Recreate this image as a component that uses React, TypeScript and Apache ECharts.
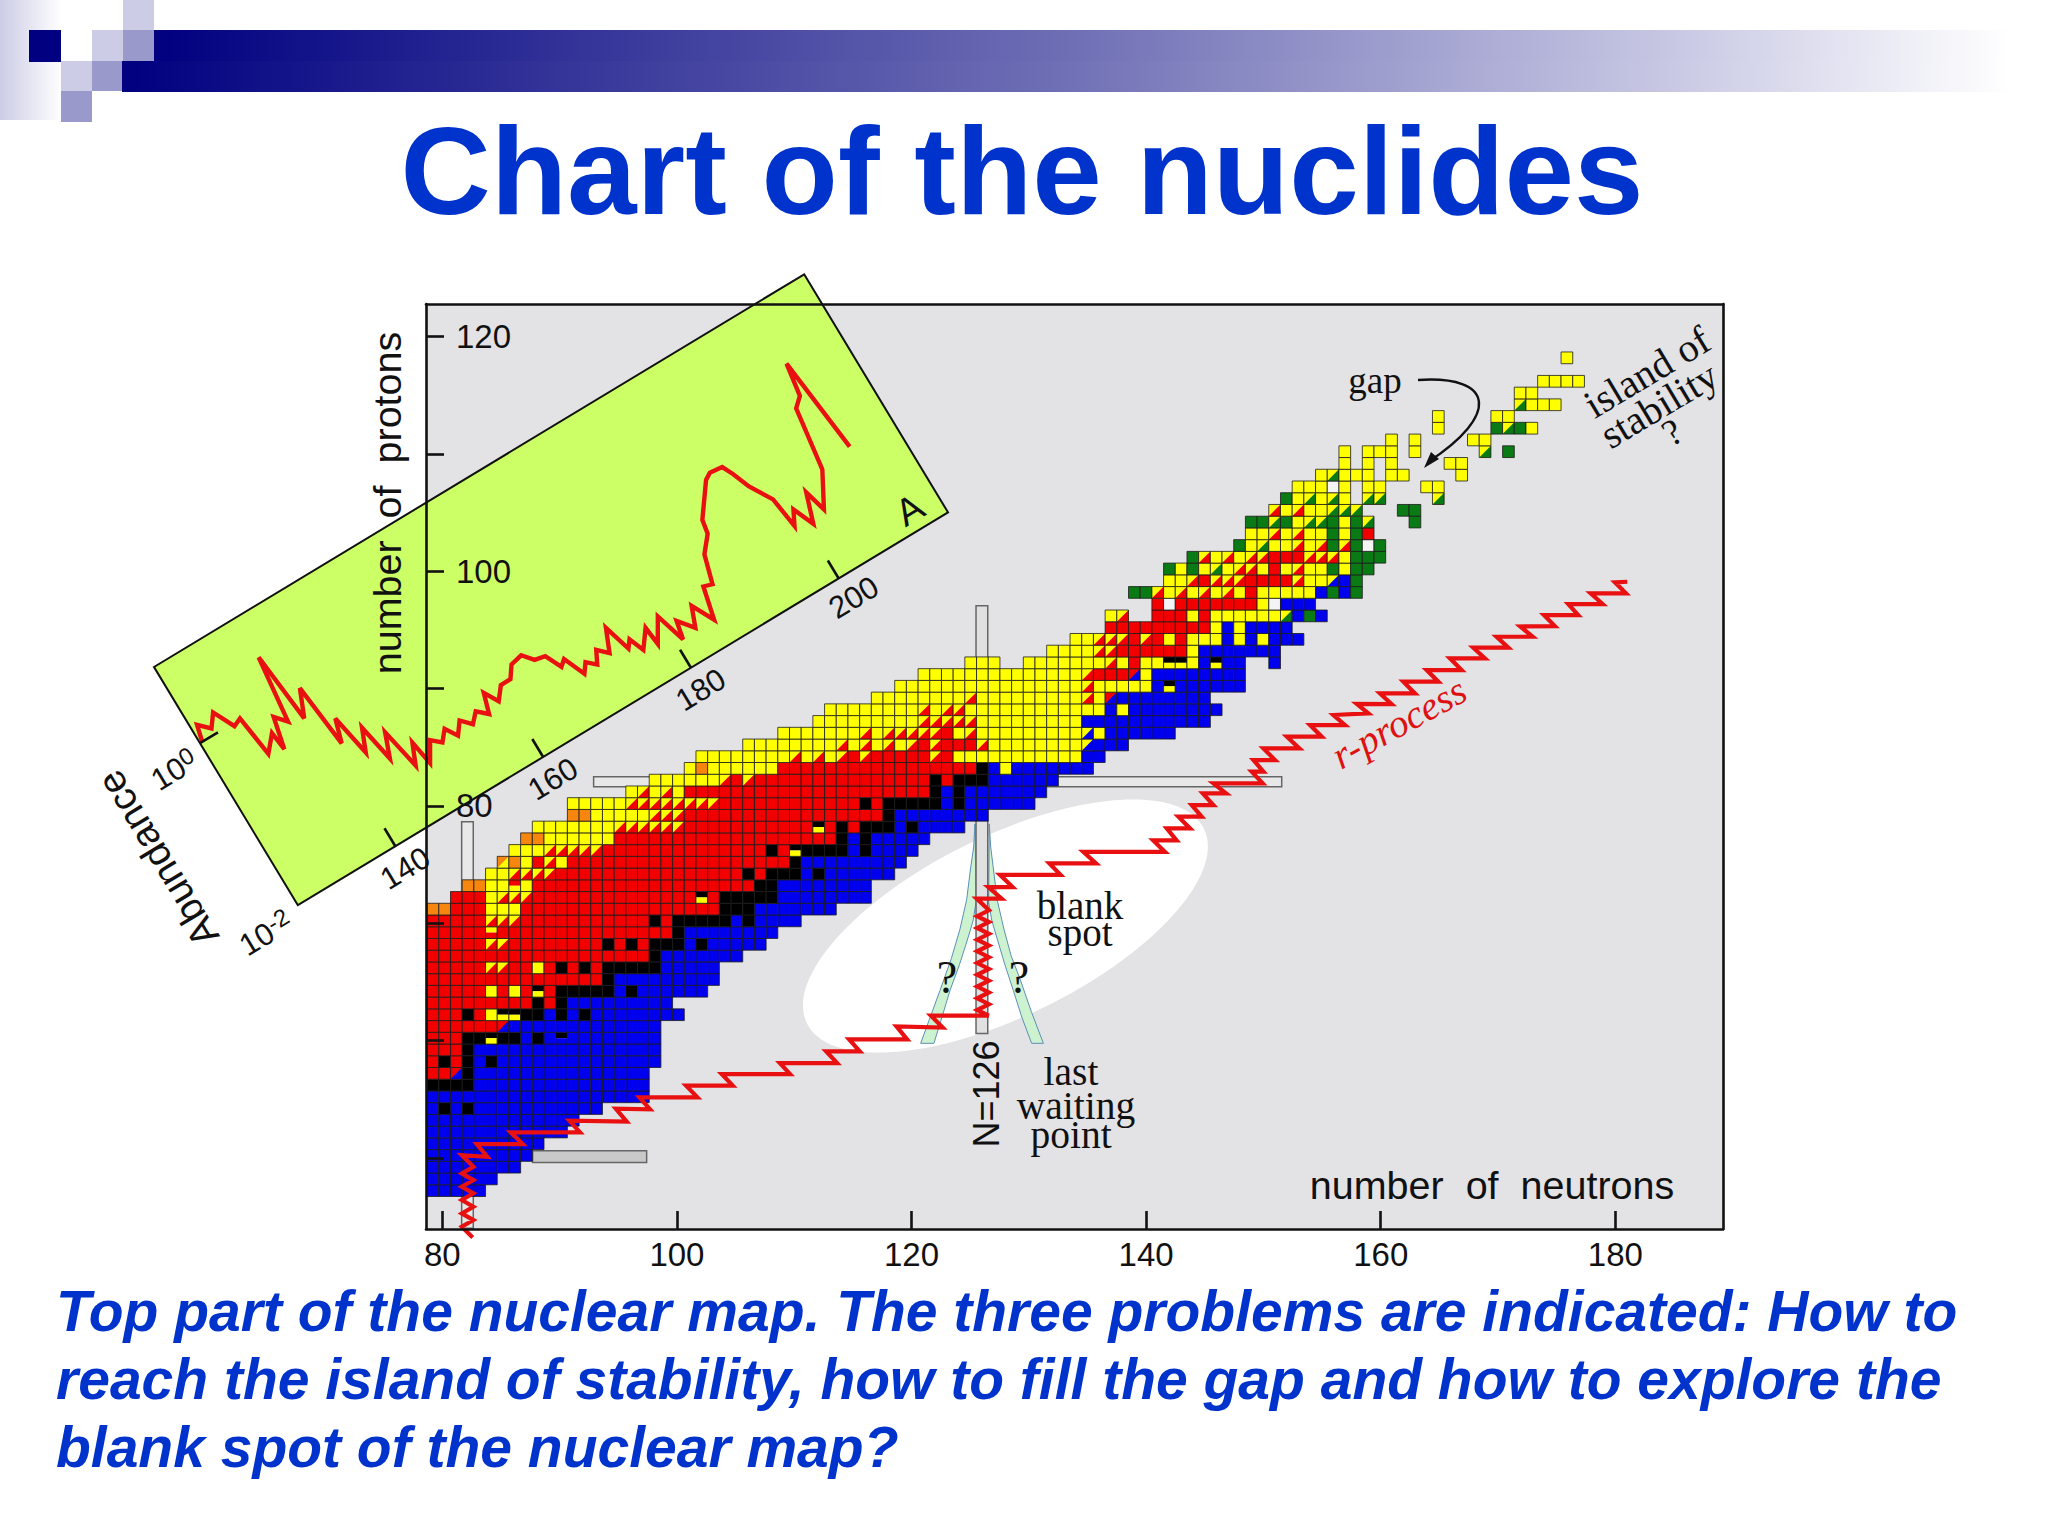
import React, { useEffect, useRef } from "react";
import * as echarts from "echarts";

// ---------- data ----------
const neutronTicks = [80, 100, 120, 140, 160, 180];
const protonTicks = [50, 60, 70, 80, 90, 100, 110, 120];
const protonLabels = [80, 100, 120];
const massTicks = [140, 160, 180, 200];

// [Z, first N, run-length cell codes]
const nuclideRows: [number, number, string][] = [
  [47, 79, "5b"], [48, 79, "6b"], [49, 79, "8b"], [50, 79, "9b"], [51, 79, "10b"], [52, 79, "12b"], [53, 79, "13b"],
  [54, 79, "b k b k 11b"], [55, 79, "19b"], [56, 79, "4k 15b"], [57, 79, "2r w k 15b"], [58, 79, "r k r k b k 14b"],
  [59, 79, "3r k 16b"], [60, 79, "3r 2k h 2k b k b m 8b"], [61, 79, "6r w 13b"], [62, 79, "3r k r y 2h 2k b k b k 8b"],
  [63, 79, "9r k r k 9b"], [64, 79, "5r y r y r h r 5k b k 6b"], [65, 79, "15r k 9b"],
  [66, 79, "5r 2t 2r y r k r k r 5k 5b"], [67, 79, "19r k 7b"], [68, 79, "5r 2t 8r k r k r 3k b k 5b"],
  [69, 79, "5r j 15r k 8b"], [70, 79, "5r 3t 11r k r 5k b k 4b"], [71, 79, "2o 3r 3y 17r 3k 7b"],
  [72, 81, "3r y 3t 14r h r 5k 8b"], [73, 82, "2o 2y n y 19r 2k 8b"], [74, 84, "2y 4t 16r k r 3k b k 6b"],
  [75, 85, "p o y r t y 19r k 9b"], [76, 86, "3y 5t 14r k r h 4k b k 4b"], [77, 87, "2o 6y 19r k b k 5b"],
  [78, 88, "7y 6t 11r h r k r 3k b k 4b"], [79, 91, "2o 5y 3t 17r k 8b"], [80, 91, "5y 8t 12r k r 5k b k 6b"],
  [81, 96, "y t y t y 21r k b k 7b"], [82, 98, "6y t r t 15r k r 3k 6b"], [83, 101, "y o 6y 17r k b y 7b"],
  [84, 102, "8y t y t y t r t 5r t r 11y 2b"], [85, 106, "8y t y t y t y t r t 3r t 8y v 3b"],
  [86, 109, "7y t y 5t r y t 9y v y 6b"], [87, 112, "9y 5t 9y 11b"], [88, 113, "8y t y 2t 12y b y 8b"],
  [89, 117, "8y t 9y t y w 8b"], [90, 119, "16y t 5y b h 6b"], [91, 121, "14y t 3r w y 8b"],
  [92, 125, "3y 2. 7y t y r 2y 2h y b h 2b 2. b"], [93, 132, "4y 2t 6r y 7b"],
  [94, 134, "2y 3t r t r y r 3y b y b y 3b"], [95, 137, "9r y b y 4b"], [96, 137, "y t 2. 3r y r 6y u b g b"],
  [97, 141, "r W 7r y W 3b"], [98, 139, "2g t y t y t y t y r 5y b g b g"], [99, 142, "2y t r 3t 4r t 2y v b g"],
  [100, 142, "g y g y u y 2t y r y t 2y g y 2g"], [101, 144, "g t y t y 2t 3r 3t y 3g"],
  [102, 148, "g y u 2y t y t g t g W g"], [103, 149, "2y t y t 2y g y g r"], [104, 149, "2g u g y 2u g y g u 3. g"],
  [105, 151, "t y t 2y 3u 3. 2g"], [106, 152, "g y u y u y . 2u 4. u"], [107, 153, "3y W y . 2y 3. 2y"],
  [108, 155, "y u 3y . 2y 4. y"], [109, 157, "y . y . y 4. 2y"], [110, 157, "y . 3y . y 5. u . g"],
  [111, 161, "y . y 4. 2y"], [112, 165, "y 4. g u g y"], [113, 165, "y 4. 2y"], [114, 172, "u 3y"],
  [115, 172, "2y"], [116, 174, "4y"], [118, 176, "y"],
];

const rProcess: [number, number][] = [
  [82.59, 43.2], [81.66, 44.12], [82.65, 44.69], [81.66, 45.26], [82.65, 45.83], [81.66, 46.4], [82.65, 46.97],
  [81.66, 47.53], [82.65, 48.1], [81.66, 48.67], [82.65, 49.24], [81.66, 50.23], [83.84, 50.09], [82.93, 51.17],
  [86.86, 51.17], [85.83, 52.17], [91.74, 52.17], [90.83, 53.16], [95.72, 53.08], [94.79, 54.19], [97.71, 54.13],
  [96.8, 55.15], [101.75, 55.15], [100.78, 56.15], [104.76, 56.15], [103.82, 57.14], [109.65, 57.14], [108.78, 58.07],
  [113.66, 58.07], [112.72, 59.08], [115.59, 59.08], [114.68, 60.09], [119.63, 60.09], [118.72, 61.2], [122.66, 61.1],
  [121.65, 62.12], [126.58, 62.12], [125.6, 62.6], [126.6, 63.1], [125.6, 63.6], [126.6, 64.1], [125.6, 64.6],
  [126.6, 65.1], [125.6, 65.6], [126.6, 66.1], [125.6, 66.6], [126.6, 67.1], [125.6, 67.6], [126.6, 68.1],
  [125.6, 68.6], [126.6, 69.1], [125.6, 69.6], [126.6, 70.1], [125.6, 70.6], [126.6, 71.1], [125.55, 72.1],
  [127.68, 72.1], [126.55, 73.08], [128.62, 73.08], [127.54, 74.12], [132.71, 74.12], [131.75, 75.1], [135.73, 75.1],
  [134.65, 76.08], [141.61, 76.08], [140.61, 77.06], [142.6, 77.06], [141.76, 78.08], [143.75, 78.08], [142.75, 79.08],
  [144.74, 79.08], [143.89, 80.07], [145.74, 80.07], [144.83, 81.07], [146.82, 81.07], [145.74, 81.92], [149.94, 81.92],
  [149.0, 82.92], [150.0, 82.92], [149.15, 83.91], [151.0, 83.91], [150.0, 84.9], [153.07, 84.9], [152.0, 85.9],
  [154.97, 85.9], [153.98, 86.89], [156.96, 86.89], [155.97, 87.75], [158.95, 87.89], [157.96, 88.7], [160.93, 88.68],
  [159.94, 89.59], [162.92, 89.59], [161.93, 90.59], [164.91, 90.59], [163.92, 91.58], [166.9, 91.58], [165.9, 92.58],
  [168.89, 92.58], [167.89, 93.49], [170.88, 93.49], [169.88, 94.42], [172.95, 94.42], [171.9, 95.3], [174.85, 95.33],
  [173.92, 96.27], [176.84, 96.27], [175.99, 97.21], [178.92, 97.21], [177.9, 98.12], [180.91, 98.12], [179.97, 99.06],
  [181.02, 99.11],
];

// mass number A, log10(abundance)
const abundance: [number, number][] = [
  [127.09, -0.005], [127.61, 0.182], [128.82, 0.07], [129.94, 0.206], [131.24, -0.035], [132.25, 0.006], [132.94, -0.47],
  [134.54, -0.303], [134.8, -0.516], [135.67, -0.166], [136.82, -0.287], [137.76, 0.456], [138.62, -0.346], [140.0, -0.048],
  [140.84, -0.776], [141.7, -0.516], [142.68, -0.991], [143.79, -0.746], [144.71, -1.177], [145.81, -0.913], [146.85, -1.38],
  [147.9, -1.155], [148.42, -1.438], [149.8, -1.23], [150.88, -1.319], [151.92, -1.206], [152.84, -1.342], [153.9, -1.213],
  [155.0, -1.32], [156.05, -1.218], [157.21, -1.316], [157.95, -1.096], [158.93, -1.253], [160.11, -1.119], [161.42, -1.117],
  [162.41, -0.99], [163.91, -0.96], [164.97, -1.075], [166.25, -1.1], [167.22, -1.284], [167.94, -1.228], [169.08, -1.472],
  [169.88, -1.374], [170.9, -1.46], [171.68, -1.321], [172.81, -1.423], [173.96, -1.175], [174.95, -1.485], [175.61, -1.408],
  [176.35, -1.579], [177.89, -1.392], [178.14, -1.604], [179.79, -1.355], [180.92, -1.701], [181.38, -1.499], [182.83, -1.664],
  [183.78, -1.444], [185.18, -1.692], [186.1, -1.333], [187.14, -1.363], [188.13, -1.048], [189.69, -0.879], [189.99, -0.725],
  [192.75, -0.384], [193.56, -0.339], [195.12, -0.356], [195.77, -0.477], [196.62, -0.677], [198.23, -0.926], [198.76, -1.284],
  [199.65, -1.128], [200.76, -1.366], [201.94, -1.044], [202.67, -1.295], [204.91, -0.924], [205.97, -0.229], [207.09, -0.136],
  [207.69, 0.228], [208.99, -0.867],
];

// [N from, N to, Z from, Z to, kind]
const magicBars: [number, number, number, number, string][] = [
  [87.7, 97.42, 49.6, 50.6, "dark"],
  [92.9, 151.56, 81.64, 82.49, "light"],
  [81.65, 82.64, 44.0, 78.65, "light"],
  [125.5, 126.5, 60.6, 97.07, "mid"],
];

const swooshLeft: [number, number][] = [
  [125.41, 78.46], [125.3, 76.5], [125.04, 74.71], [124.7, 72], [124.13, 69.49], [123.4, 67], [122.43, 64.27], [121.6, 62],
  [120.78, 59.76], [121.91, 59.76], [122.6, 62], [123.28, 64.27], [124.1, 66.5], [124.84, 68.83], [125.25, 70.2], [125.5, 71.77],
];
const swooshRight: [number, number][] = [
  [126.63, 78.46], [126.75, 76.5], [126.97, 74.71], [127.3, 72], [127.88, 69.49], [128.5, 67.2], [129.25, 65.25], [130.2, 62.5],
  [131.24, 59.76], [130.24, 59.76], [129.4, 62], [128.68, 64.27], [127.95, 66.5], [127.26, 68.83], [126.85, 70.2], [126.58, 71.77],
];
const blankSpot = { n: 128.01, z: 69.76, a: 18.84, b: 7.67, tiltDeg: 26.15 };

const captionLines = [
  "Top part of the nuclear map. The three problems are indicated: How to",
  "reach the island of stability, how to fill the gap and how to explore the",
  "blank spot of the nuclear map?",
];

// ---------- helpers ----------
const RED = "#f20000";
const BLUE = "#0000ee";
const YELLOW = "#ffff00";
const GREEN = "#0a7a14";
const ORANGE = "#f7860f";
const COLORS: Record<string, string> = {
  b: BLUE, k: "#000000", r: RED, y: YELLOW, o: ORANGE, g: GREEN, W: "#f4f4f4",
};
const TRI: Record<string, [string, string]> = {
  t: [YELLOW, RED], u: [YELLOW, GREEN], v: [YELLOW, BLUE], w: [RED, BLUE], p: [ORANGE, YELLOW],
};
const HALF: Record<string, [string, string]> = {
  h: ["#000000", YELLOW], j: [YELLOW, RED], m: ["#000000", BLUE], n: [RED, YELLOW],
};

type Cell = { n: number; z: number; code: string };
const cells: Cell[] = [];
nuclideRows.forEach(([z, n0, rle]) => {
  let n = n0;
  rle.split(" ").forEach((tok) => {
    const code = tok[tok.length - 1];
    const count = tok.length > 1 ? parseInt(tok.slice(0, -1), 10) : 1;
    for (let i = 0; i < count; i++) {
      if (code !== ".") cells.push({ n, z, code });
      n++;
    }
  });
});

const cellLeft = (n: number) => 80 + (n - 80.3) * 0.99659;
const SANS = '"Liberation Sans", Arial, sans-serif';
const SERIF = '"Liberation Serif", "Times New Roman", serif';
const EDGE = "#1c1c1c";

function label(text: string, x: number, y: number, size: number, o: any = {}) {
  return {
    type: "text",
    x,
    y,
    z: 30,
    rotation: ((o.deg || 0) * Math.PI) / 180,
    style: {
      text,
      fill: o.fill || "#111111",
      fontSize: size,
      fontFamily: o.family || SERIF,
      fontWeight: o.weight || "normal",
      fontStyle: o.italic ? "italic" : "normal",
      align: o.align || "center",
      textAlign: o.align || "center",
      verticalAlign: "middle",
      textVerticalAlign: "middle",
    },
  };
}
const box = (x: number, y: number, width: number, height: number, fill: any) => ({
  type: "rect", shape: { x, y, width, height }, style: { fill }, z: 1,
});
const hGrad = (a: string, b: string, stops?: any) => ({
  type: "linear", x: 0, y: 0, x2: 1, y2: 0, colorStops: stops || [{ offset: 0, color: a }, { offset: 1, color: b }],
});
const headerStops = [
  { offset: 0, color: "#000080" }, { offset: 0.5, color: "#7070b6" }, { offset: 0.82, color: "#c8c8e4" },
  { offset: 1, color: "#ffffff" },
];

function renderCell(params: any, api: any) {
  const c = cells[params.dataIndex];
  const a = api.coord([cellLeft(c.n), c.z + 0.7]);
  const d = api.coord([cellLeft(c.n + 1), c.z - 0.3]);
  const x = a[0], y = a[1], w = d[0] - a[0], h = d[1] - a[1];
  const children: any[] = [];
  if (TRI[c.code]) {
    const [ul, lr] = TRI[c.code];
    children.push({ type: "rect", shape: { x, y, width: w, height: h }, style: { fill: ul } });
    children.push({ type: "polygon", shape: { points: [[x, y + h], [x + w, y], [x + w, y + h]] }, style: { fill: lr } });
  } else if (HALF[c.code]) {
    const [top, bottom] = HALF[c.code];
    children.push({ type: "rect", shape: { x, y, width: w, height: h / 2 }, style: { fill: top } });
    children.push({ type: "rect", shape: { x, y: y + h / 2, width: w, height: h / 2 }, style: { fill: bottom } });
  } else {
    children.push({ type: "rect", shape: { x, y, width: w, height: h }, style: { fill: COLORS[c.code] } });
  }
  children.push({ type: "rect", shape: { x, y, width: w, height: h }, style: { fill: "none", stroke: EDGE, lineWidth: 0.8 } });
  return { type: "group", children };
}

function renderBackdrop(_: any, api: any) {
  const center = api.coord([blankSpot.n, blankSpot.z]);
  const unit = api.size([1, 1]);
  const children: any[] = [
    {
      type: "ellipse",
      x: center[0],
      y: center[1],
      rotation: (blankSpot.tiltDeg * Math.PI) / 180,
      shape: { cx: 0, cy: 0, rx: blankSpot.a * unit[0], ry: blankSpot.b * unit[1] },
      style: { fill: "#ffffff" },
    },
  ];
  [swooshLeft, swooshRight].forEach((pts) =>
    children.push({
      type: "polygon",
      shape: { points: pts.map((p) => api.coord(p)) },
      style: { fill: "#ccf2cf", stroke: "#5c8fb5", lineWidth: 1 },
    })
  );
  const fills: Record<string, string> = { dark: "#c9c9c9", light: "#e8e8e8", mid: "#e0e0e0" };
  magicBars.forEach(([n0, n1, z0, z1, kind]) => {
    const a = api.coord([n0, z1]);
    const d = api.coord([n1, z0]);
    children.push({
      type: "rect",
      shape: { x: a[0], y: a[1], width: d[0] - a[0], height: d[1] - a[1] },
      style: { fill: fills[kind], stroke: "#666666", lineWidth: 1.5 },
    });
  });
  return { type: "group", children };
}

const INSET = { left: 154, top: 667, width: 759.6, height: 278.2, deg: 31.16 };
const insetX = { min: 126.8, max: 214.8 };
const insetY = { min: -2, max: 0.94 };

function renderInset(_: any, api: any) {
  const o = api.coord([insetX.min, insetY.max]);
  const loc = (a: number, l: number) => {
    const p = api.coord([a, l]);
    return [p[0] - o[0], p[1] - o[1]];
  };
  const br = loc(insetX.max, insetY.min);
  const children: any[] = [
    { type: "rect", shape: { x: 0, y: 0, width: br[0], height: br[1] }, style: { fill: "#ccff66", stroke: "#111", lineWidth: 2 } },
    { type: "polyline", shape: { points: abundance.map(([a, l]) => loc(a, l)) }, style: { fill: "none", stroke: "#e81010", lineWidth: 4.4, lineJoin: "miter" } },
  ];
  massTicks.forEach((m) => {
    const p = loc(m, insetY.min);
    children.push({ type: "line", shape: { x1: p[0], y1: p[1], x2: p[0], y2: p[1] - 21 }, style: { stroke: "#111", lineWidth: 2.6 } });
    children.push({
      type: "text",
      style: { text: String(m), x: p[0] + (m === 200 ? 3 : -3), y: p[1] + 24, fill: "#111", fontSize: 31, fontFamily: SANS, align: "center", verticalAlign: "middle" },
    });
  });
  const t0 = loc(insetX.min, 0);
  children.push({ type: "line", shape: { x1: t0[0], y1: t0[1], x2: t0[0] + 21, y2: t0[1] }, style: { stroke: "#111", lineWidth: 2.6 } });
  const rich = { a: { fontSize: 31, fontFamily: SANS, fill: "#111", color: "#111" }, b: { fontSize: 24, fontFamily: SANS, fill: "#111", color: "#111", padding: [0, 0, 12, 0] } };
  children.push({ type: "text", style: { text: "{a|10}{b|0}", rich, x: t0[0] - 36, y: t0[1] + 10, fill: "#111", align: "center", verticalAlign: "middle" } });
  const t1 = loc(insetX.min, insetY.min);
  children.push({ type: "text", style: { text: "{a|10}{b|-2}", rich, x: t1[0] - 42, y: t1[1] + 8, fill: "#111", align: "center", verticalAlign: "middle" } });
  children.push({
    type: "text",
    x: -96,
    y: 166,
    rotation: Math.PI / 2,
    style: { text: "Abundance", x: 0, y: 0, fill: "#111", fontSize: 39, fontFamily: SANS, align: "center", verticalAlign: "middle" },
  });
  children.push({
    type: "text",
    style: { text: "A", x: 728, y: 256, fill: "#111", fontSize: 38, fontFamily: SANS, align: "center", verticalAlign: "middle" },
  });
  return { type: "group", x: o[0], y: o[1], rotation: (INSET.deg * Math.PI) / 180, children };
}

const GRID = { left: 426, top: 304, width: 1297, height: 925 };
const RANGE_X = { min: 78.61, max: 189.18 };
const RANGE_Y = { min: 43.93, max: 122.79 };
const lineStyle = { color: "#111111", width: 2.6 };

function buildOption(): any {
  const hidden = { show: false };
  return {
    animation: false,
    backgroundColor: "#ffffff",
    grid: [
      { ...GRID, show: true, backgroundColor: "#e3e3e5", borderWidth: 0, containLabel: false },
      { left: INSET.left, top: INSET.top, width: INSET.width, height: INSET.height, show: false },
    ],
    xAxis: [
      {
        type: "value", gridIndex: 0, position: "bottom", ...RANGE_X, z: 10, splitLine: hidden,
        axisLine: { onZero: false, lineStyle },
        axisTick: { inside: true, length: 18, lineStyle, customValues: neutronTicks },
        axisLabel: { customValues: neutronTicks, fontSize: 33, fontFamily: SANS, color: "#111", margin: 9, showMinLabel: true, showMaxLabel: true },
      },
      {
        type: "value", gridIndex: 0, position: "top", ...RANGE_X, z: 10, splitLine: hidden,
        axisLine: { onZero: false, lineStyle }, axisTick: hidden, axisLabel: hidden,
      },
      { type: "value", gridIndex: 1, ...insetX, show: false, splitLine: hidden },
    ],
    yAxis: [
      {
        type: "value", gridIndex: 0, position: "left", ...RANGE_Y, z: 10, splitLine: hidden,
        axisLine: { onZero: false, lineStyle },
        axisTick: { inside: true, length: 18, lineStyle, customValues: protonTicks },
        axisLabel: { customValues: protonLabels, inside: true, fontSize: 33, fontFamily: SANS, color: "#111", margin: 30 },
      },
      {
        type: "value", gridIndex: 0, position: "right", ...RANGE_Y, z: 10, splitLine: hidden,
        axisLine: { onZero: false, lineStyle }, axisTick: hidden, axisLabel: hidden,
      },
      { type: "value", gridIndex: 1, ...insetY, show: false, splitLine: hidden },
    ],
    series: [
      { type: "custom", z: 1, xAxisIndex: 0, yAxisIndex: 0, data: [[blankSpot.n, blankSpot.z]], renderItem: renderBackdrop, silent: true },
      { type: "custom", z: 2, xAxisIndex: 0, yAxisIndex: 0, data: cells.map((c) => [c.n, c.z]), renderItem: renderCell, silent: true },
      { type: "custom", z: 3, xAxisIndex: 2, yAxisIndex: 2, data: [[insetX.min, insetY.max]], renderItem: renderInset, silent: true },
      {
        type: "line", z: 5, xAxisIndex: 0, yAxisIndex: 0, data: rProcess, showSymbol: false, clip: false, silent: true,
        lineStyle: { color: "#e81010", width: 4.2, join: "miter" },
      },
    ],
    graphic: {
      elements: [
        box(0, 0, 62, 120, hGrad("#ccccE6", "#ffffff")),
        box(154, 30, 1856, 31, hGrad("#000080", "#ffffff", headerStops)),
        box(122, 61, 1888, 31, hGrad("#000080", "#ffffff", headerStops)),
        box(29, 30, 32, 32, "#000080"),
        box(92, 30, 31, 31, "#ccccE6"),
        box(123, 0, 31, 30, "#ccccE6"),
        box(61, 61, 31, 30, "#ccccE6"),
        box(123, 30, 31, 31, "#9999cc"),
        box(92, 61, 30, 30, "#9999cc"),
        box(61, 91, 31, 31, "#9999cc"),
        label("Chart of the nuclides", 1022, 170, 125, { family: SANS, weight: "bold", fill: "#0033cc" }),
        ...captionLines.map((t, i) =>
          label(t, 56, 1311 + i * 68, 57, { family: SANS, weight: "bold", italic: true, fill: "#0033cc", align: "left" })
        ),
        label("number  of  protons", 387, 503, 39.5, { family: SANS, deg: 90 }),
        label("number  of  neutrons", 1492, 1185, 39.5, { family: SANS }),
        label("N=126", 986, 1094, 36, { family: SANS, deg: 90 }),
        label("blank", 1080, 905, 39),
        label("spot", 1080, 932, 39),
        label("last", 1071, 1072, 39.5),
        label("waiting", 1076, 1106, 39.5),
        label("point", 1071, 1135, 39.5),
        label("?", 947, 977, 46),
        label("?", 1019, 977, 46),
        label("gap", 1375, 380, 37),
        label("island of", 1647, 372, 40, { deg: 31 }),
        label("stability", 1659, 405, 40, { deg: 31 }),
        label("?", 1672, 432, 37, { deg: 31 }),
        label("r-process", 1399, 723, 39.5, { italic: true, fill: "#dd1111", deg: 29 }),
        {
          type: "bezierCurve",
          z: 30,
          shape: { x1: 1418, y1: 380, cpx1: 1495, cpy1: 375, cpx2: 1500, cpy2: 415, x2: 1428, y2: 462 },
          style: { stroke: "#111111", lineWidth: 2.4, fill: "none" },
        },
        {
          type: "polygon",
          z: 30,
          shape: { points: [[1424, 468], [1431, 452], [1439, 459]] },
          style: { fill: "#111111" },
        },
      ],
    },
  };
}

export default function App() {
  const ref = useRef<HTMLDivElement>(null);
  useEffect(() => {
    const chart = echarts.init(ref.current as HTMLDivElement, null, { renderer: "svg" });
    chart.setOption(buildOption());
    return () => chart.dispose();
  }, []);
  return <div ref={ref} style={{ position: "absolute", left: 0, top: 0, width: 2048, height: 1536 }} />;
}
